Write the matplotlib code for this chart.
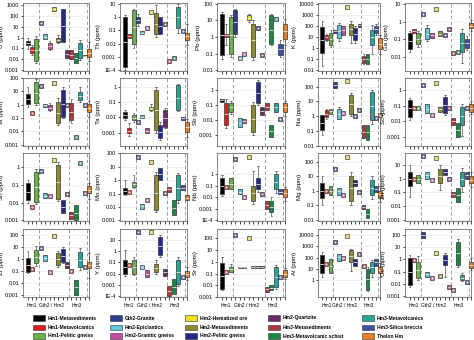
import matplotlib
matplotlib.use("Agg")
import numpy as np
import matplotlib.pyplot as plt
from matplotlib.patches import Rectangle

plt.rcParams["font.family"] = ["Liberation Sans", "DejaVu Sans"]

# ── Groups and colours ───────────────────────────────────────
GROUPS = ["Hm1-Metasediments", "Hm1-Metavolcanics", "Hm1-Pelitic gneiss",
          "Gth2-Granite", "Hm2-Epiclastics", "Hm2-Granitic gneiss",
          "Hm2-Hematized ore", "Hm2-Metasediments", "Hm2-Pelitic gneiss",
          "Hm2-Quartzite", "Hm3-Metasediments", "Hm3-Metavolcanic schist",
          "Hm3-Metavolcanics", "Hm3-Silica breccia", "Thelon Hm"]
COLORS = ["#000000", "#e41a1c", "#6bb24a", "#2d3e8e", "#5ec8dc",
          "#c04fa0", "#f0e21a", "#8c8c2e", "#232a8a", "#6c2a6a",
          "#b2363e", "#198a44", "#2aa59a", "#3f4ea0", "#e8822a"]

# ── Data: log10(ppm) as (q1, q3, whisker low, whisker high) ──
# a single value means one sample, None means no data
U = [(-0.7, -0.35, -1.1, 0.0), (-1.46, -0.85, -1.6, -0.7), (-2.2, -0.17, -2.4, 0.15),
     (1.35,), (-0.14, 0.3), (-1.1, -0.48, -1.2, -0.3), (2.5, 2.8), (-0.38, 0.0, -0.5, 0.2),
     (-0.38, 2.6), (-1.92, -1.15), (-2.0, -1.2), (-2.4, -1.46), (-1.9, -0.48, -2.1, -0.2),
     (-1.75, -1.6), (-1.77, -1.1, -2.2, -0.4)]
Th = [(-3.76, 0.02, -4.0, 0.15), (-1.56, -1.3), (-2.05, 0.5, -2.3, 0.6),
      (-0.46, 0.0, -0.7, 0.25), (-1.3, -1.07), (-0.8,), (0.39,), (-1.3, 0.27, -1.5, 0.9),
      (-1.3, 0.02), (-0.54,), (-3.27,), (-3.07,), (-0.83, 0.76, -1.2, 1.0), (-1.07,),
      (-1.7, -1.2, -2.1, -0.5)]
Pb = [(-1.1, 1.4, -1.3, 1.5), (0.0, 0.2, -0.5, 0.8), (-1.0, 1.2, -1.2, 1.3),
      (0.2, 1.6, 0.0, 1.7), (-1.26,), (-1.0,), (1.0, 1.3, 0.9, 1.4), (-1.2, 0.8, -1.4, 1.0),
      (0.56,), (-1.06,), None, (-0.4, 1.3, -0.5, 1.4), (1.1,), (-1.1, -0.4, -1.2, -0.2),
      (-0.1, 0.8, -0.5, 1.1)]
K = [(-0.41, 1.94, -1.6, 2.4), (0.76, 1.2, 0.6, 1.3), (0.32, 1.35, 0.1, 1.6),
     (1.35, 1.65), (0.9, 2.1, 0.6, 2.3), (1.2, 2.0), (3.7,), (1.2, 2.15, 0.5, 2.4),
     (0.76, 1.8, 0.5, 2.0), (1.94, 2.2), (-1.3, -0.7, -1.4, -0.5), (-1.44, -0.56),
     (0.32, 1.65, -0.5, 2.1), (1.35, 2.0, 1.2, 2.2), (-0.1, 0.9, -0.5, 1.2)]
Ga = [(-1.55, -0.64, -1.7, -0.5), (-0.64, -0.4), (-1.27, -0.64, -1.4, -0.5), (0.45,),
      (-1.0, -0.36, -1.1, -0.2), (-0.9, -0.64), (0.73,), (-0.8, -0.55), (-0.73,), (-0.4,),
      (-1.78,), (-1.73,), (-1.73, -0.64, -2.3, -0.4), (-1.45, -1.0, -1.6, -0.8),
      (-0.36, -0.1, -0.5, 0.1)]
W = [(0.07, 0.83, -0.2, 1.3), (-0.6,), (0.12, 1.7, 0.0, 1.9), (1.37,), (-0.17, 0.07),
     (-0.42, -0.05, -0.5, 0.1), (1.6,), (-1.4, 0.2, -1.5, 0.5), (-0.9, 1.07, -1.0, 1.3),
     (-0.05,), (-1.17, 0.12, -1.4, 0.4), (-2.42,), (0.37, 0.95, 0.2, 1.3), (-0.05,),
     (-0.55, 0.07, -0.9, 0.3)]
Ta = [(-2.07, -1.67, -2.2, -1.5), (-3.05, -2.7, -3.2, -2.4), (-2.17, -1.85, -2.3, -1.7),
      (-2.33,), (-2.07, -1.85), (-3.05, -2.67), (-1.52, -1.3, -1.6, -1.1),
      (-2.83, -0.2, -3.0, 0.0), (-3.37, -2.5, -3.5, -2.3), (-2.6, -1.52, -2.7, -1.4),
      None, None, (-1.52, 0.1, -1.6, 0.2), (-2.17, -1.95), (-2.93, -2.28, -3.3, -2.1)]
Sb = [(-0.78, -0.6), (-2.33, -0.89, -2.5, -0.6), (-1.44, -0.89, -1.6, -0.7), None,
      (-2.44, -1.89), (-2.2, -1.9), None, (-2.8, -1.0, -3.0, -0.8), (-0.89, 0.55, -1.0, 0.7),
      (-1.67, -1.1), (-1.33, -0.89), (-3.1, -2.33), (-1.44, -0.89), (-1.9,),
      (-1.44, -0.89, -1.7, -0.7)]
Na = [(-0.95, 0.07, -1.3, 0.1), (-0.05, 0.4, -0.2, 0.5), (0.18, 0.52), (1.9, 2.34),
      (-0.16, 0.5, -0.2, 0.6), (0.2,), (2.4,), (0.18, 1.43, 0.0, 1.6), (0.0,), (0.4,),
      (-1.5, -0.6), (-1.6, -0.6), (-0.27, 1.66, -0.5, 1.8), (-0.1,), (0.1,)]
Sc = [(-1.7, -0.64, -1.9, -0.5), (-1.17,), (-1.17,), (0.32,), (-1.49, -0.91), (-1.6,),
      (0.43,), (-1.38, -1.06), (-1.49, -0.43, -1.6, -0.3), (-1.17,), (-2.2, -1.8),
      (-2.98, -2.13), (-2.23, -1.06, -2.9, -0.9), (-1.13,), (-1.38, -0.91, -1.5, -0.7)]
Sn = [(-1.85, -0.9, -2.0, -0.7), (-2.26,), (-1.95, -0.25, -2.1, -0.1), (-0.19,),
      (-1.75, -1.47), (-1.62,), (0.42,), (-1.8, 0.13, -1.9, 0.3), (-2.6, -1.85), (-1.5,),
      (-2.9, -2.5), (-2.98, -2.13), (0.26,), (-1.43,), (-1.47, -1.06, -1.8, -0.9)]
Mo = [(-1.0, -0.62, -1.1, 0.0), (-0.87,), (-0.5, -0.12, -0.6, 0.4), (1.75,),
      (-2.12, -1.75), (-1.5,), (1.37,), (-2.25, 0.37, -2.4, 0.6), (0.0, 0.87), (-0.95,),
      (-0.87, -0.5), (-2.62, -1.5), (-1.5, 0.37, -1.7, 0.5), (-0.75, -0.37), (-1.5, -1.12)]
Nb = [(-1.71, -0.29, -1.85, -0.1), (-1.14,), (-1.3, -0.3), (1.3,), (-1.7, -1.3), (-2.0,),
      (1.5,), (-2.3, -1.0, -2.6, 0.3), (-1.3, -0.3, -1.5, 0.7), (-1.7,), (-3.0, -2.3),
      (-3.3, -2.3, -3.6, -2.0), (-1.3, 0.0, -1.6, 0.3), (-1.7, -1.3), (-2.0, -1.3, -2.3, -1.1)]
Mg = [(-0.5, 0.5, -1.0, 1.0), (0.0,), (-0.3, 0.3), (1.5,), (-0.3, 0.2), (-0.3,), (2.3,),
      (-0.7, 1.0, -1.0, 1.3), (0.3, 0.7), (-0.1,), (-1.3, -1.0), (-1.9, -1.3),
      (-0.3, 0.7, -0.6, 1.0), (-0.1, 0.3), (-0.5, 0.0, -0.8, 0.3)]
Zn = [(-0.5, 0.5, -1.3, 1.0), (0.0,), (-0.3, 0.3), (1.7,), (0.0, 0.5), (-0.1,), (1.5,),
      (-0.3, 0.7, -0.8, 1.0), (0.3, 0.7), (0.0,), (-1.3, -1.0), (-1.7, -0.7),
      (-0.5, 0.5, -1.0, 0.8), (0.0, 0.5), (-0.3, 0.2, -0.6, 0.5)]
Zr = [(-1.05, 0.05, -1.2, 0.7), (-0.86,), (-0.36, 0.75, -0.6, 1.1), (0.9,), (-0.14, 0.33),
      (-1.05,), (1.9,), (-0.5, 0.47, -0.7, 0.7), (-0.22, 0.8, -0.3, 1.0), (-0.78, -0.22),
      (-0.97,), (-3.0, -1.75), (-0.7, 0.6, -0.9, 0.9), (-0.64,), (-0.78, -0.22, -1.6, 0.5)]
Y = [(-2.0, -0.8, -2.2, 0.1), (-1.27,), (-2.0, -0.8, -2.1, -0.5), (1.76,), (-1.42,),
     (-2.33, -1.67), (1.76,), (-1.88, -1.12, -2.0, -0.8), (-0.36, 1.3, -0.5, 1.5),
     (-2.18, -1.58), (-4.0, -3.1), (-3.85, -2.5), (-2.9, -0.8, -3.1, -0.5), (-2.33,),
     (-2.33, -1.73, -2.6, -1.4)]
Sr = [(-2.28, -0.14, -2.4, 0.4), (-0.86,), (-0.86, -0.43, -0.9, -0.2), (2.29,),
      (-0.55, -0.4), (-0.55, -0.4), (2.0,), (-0.5, -0.35), (-0.5, -0.35), (-0.5, -0.35),
      (-2.57, -2.14), (-2.43, -2.0), (-2.14, -0.43, -2.3, -0.3), (-1.29,),
      (-1.29, -0.71, -1.5, -0.5)]
Al = [(0.67, 2.2, 0.3, 2.5), (1.42,), (0.67, 1.9), (3.4,), (1.73, 2.33), (1.97,), (3.9,),
      (1.58, 2.64, 0.8, 2.8), (1.27, 1.9), (2.27,), (1.27,), (-0.85, 0.97, -1.0, 1.2),
      (0.67, 1.58, 0.3, 1.8), (1.27, 1.9), (0.67, 1.12, 0.3, 1.5)]
Co = [(-2.1, 0.08, -2.3, 0.4), (-0.05,), (-1.56, -0.2, -1.7, 0.3), (1.73, 2.27),
      (-1.42, -1.0), (-1.56,), (0.5,), (-1.37,), (-0.47, 0.36, -1.4, 0.5), (-2.25,),
      (-2.47,), (-0.47, 1.45, -0.6, 1.7), (-1.7, -1.3, -1.8, -1.1), (-1.84,),
      (-0.74, -0.2, -0.9, 0.1)]

# element, data, y-limits (log10), tick exponents
PANELS = [
    [("U", U, (-3.1, 3.2), range(-3, 4)), ("Th", Th, (-4.05, 1.05), range(-4, 2)),
     ("Pb", Pb, (-2.05, 2.05), range(-2, 3)), ("K", K, (-2.05, 4.05), range(-2, 5)),
     ("Ga", Ga, (-2.77, 1.05), range(-2, 2))],
    [("W", W, (-3.1, 2.0), range(-3, 3)), ("Ta", Ta, (-3.87, 0.57), range(-3, 1)),
     ("Sb", Sb, (-3.73, 0.8), range(-3, 1)), ("Na", Na, (-2.03, 2.6), range(-2, 3)),
     ("Sc", Sc, (-3.57, 0.77), range(-3, 1))],
    [("Sn", Sn, (-3.03, 0.8), range(-3, 1)), ("Mo", Mo, (-3.05, 2.02), range(-3, 3)),
     ("Nb", Nb, (-4.05, 1.85), range(-4, 1)), ("Mg", Mg, (-2.1, 2.6), range(-2, 3)),
     ("Zn", Zn, (-3.1, 1.9), range(-3, 2))],
    [("Zr", Zr, (-3.17, 2.5), range(-3, 3)), ("Y", Y, (-4.1, 2.0), range(-4, 2)),
     ("Sr", Sr, (-3.0, 2.8), range(-3, 3)), ("Al", Al, (-1.5, 4.53), range(0, 5)),
     ("Co", Co, (-3.08, 2.5), range(-3, 3))],
]

# ── Layout (pixels) ──────────────────────────────────────────
W_PX, H_PX = 474, 340
COL_LEFT = [23, 120, 217, 318, 405]
COL_W = [66, 67, 68, 62, 66]
ROW_TOP = [3, 78, 153, 229]
ROW_H = 68
POS = np.arange(1, 16)


def tick_label(e):
    if e >= 0:
        return str(10 ** e)
    if e >= -3:
        return f"{10.0 ** e:.{-e}f}"
    return f"1E{e}"


fig = plt.figure(figsize=(W_PX / 100, H_PX / 100), dpi=100)

for r, row in enumerate(PANELS):
    for c, (elem, data, ylim, ticks) in enumerate(row):
        ax = fig.add_axes([COL_LEFT[c] / W_PX, 1 - (ROW_TOP[r] + ROW_H) / H_PX,
                           COL_W[c] / W_PX, ROW_H / H_PX])
        ax.set_yscale("log")
        ax.set_ylim(10 ** ylim[0], 10 ** ylim[1])
        ax.set_xlim(-0.05, 14.85)
        ticks = list(ticks)
        ax.set_yticks([10.0 ** e for e in ticks])
        ax.set_yticklabels([tick_label(e) for e in ticks])
        ax.yaxis.set_minor_locator(plt.NullLocator())
        ax.grid(axis="y", color="#e4e4e4", linewidth=0.4, zorder=0)
        ax.set_xticks(POS)
        ax.set_xticklabels([])
        ax.tick_params(axis="both", labelsize=3.9, length=1.8, width=0.5, pad=1)
        for s in ax.spines.values():
            s.set_linewidth(0.5)
            s.set_color("#555555")
        ax.set_ylabel(f"{elem} (ppm)", fontsize=4.4, labelpad=1)
        for xv in (3.5, 10.5, 14.5):
            ax.axvline(xv, color="#8a8a8a", linestyle=(0, (4, 3)), linewidth=0.6, zorder=1)

        for i, d in enumerate(data):
            if d is None:
                continue
            if len(d) == 1:
                ax.plot(POS[i], 10 ** d[0], marker="s", ms=3.0, mfc=COLORS[i],
                        mec="#444444", mew=0.5, zorder=4, clip_on=False)
                ax.plot(POS[i], 10 ** d[0], marker="o", ms=0.8, color="#dddddd",
                        zorder=5, clip_on=False)
                continue
            q1, q3 = d[0], d[1]
            wlo, whi = (d[2], d[3]) if len(d) == 4 else (q1, q3)
            stats = [dict(q1=10 ** q1, q3=10 ** q3, med=10 ** ((q1 + q3) / 2),
                          whislo=10 ** wlo, whishi=10 ** whi, fliers=[])]
            bp = ax.bxp(stats, positions=[POS[i]], widths=0.9, patch_artist=True,
                        showfliers=False, manage_ticks=False,
                        boxprops=dict(facecolor=COLORS[i], edgecolor="#333333", linewidth=0.5),
                        whiskerprops=dict(color="#555555", linewidth=0.5),
                        capprops=dict(color="#555555", linewidth=0.5),
                        capwidths=0.4,
                        medianprops=dict(color="#e8e8e8", linewidth=0.6))
            for arts in bp.values():
                for a in arts:
                    a.set_zorder(3)
                    a.set_clip_on(False)

        if r == len(PANELS) - 1:
            for xv, lab in ((2.0, "Hm1"), (6.5, "Gth2 / Hm2"), (12.3, "Hm3")):
                ax.text(xv, -0.12, lab, transform=ax.get_xaxis_transform(),
                        ha="center", va="center", fontsize=3.5)

# ── Legend (5 columns x 3 rows) ──────────────────────────────
LEG_X = [33, 110, 185, 268, 362]
LEG_Y = [318, 327.5, 336]
for i, name in enumerate(GROUPS):
    x0, yc = LEG_X[i // 3], LEG_Y[i % 3]
    fig.patches.append(Rectangle((x0 / W_PX, 1 - (yc + 2.8) / H_PX), 12 / W_PX, 5.6 / H_PX,
                                 transform=fig.transFigure, facecolor=COLORS[i],
                                 edgecolor="#333333", linewidth=0.4))
    fig.text((x0 + 15) / W_PX, 1 - yc / H_PX, name, fontsize=3.6, fontweight="bold",
             va="center", ha="left")

fig.savefig("out.png", dpi=100)
